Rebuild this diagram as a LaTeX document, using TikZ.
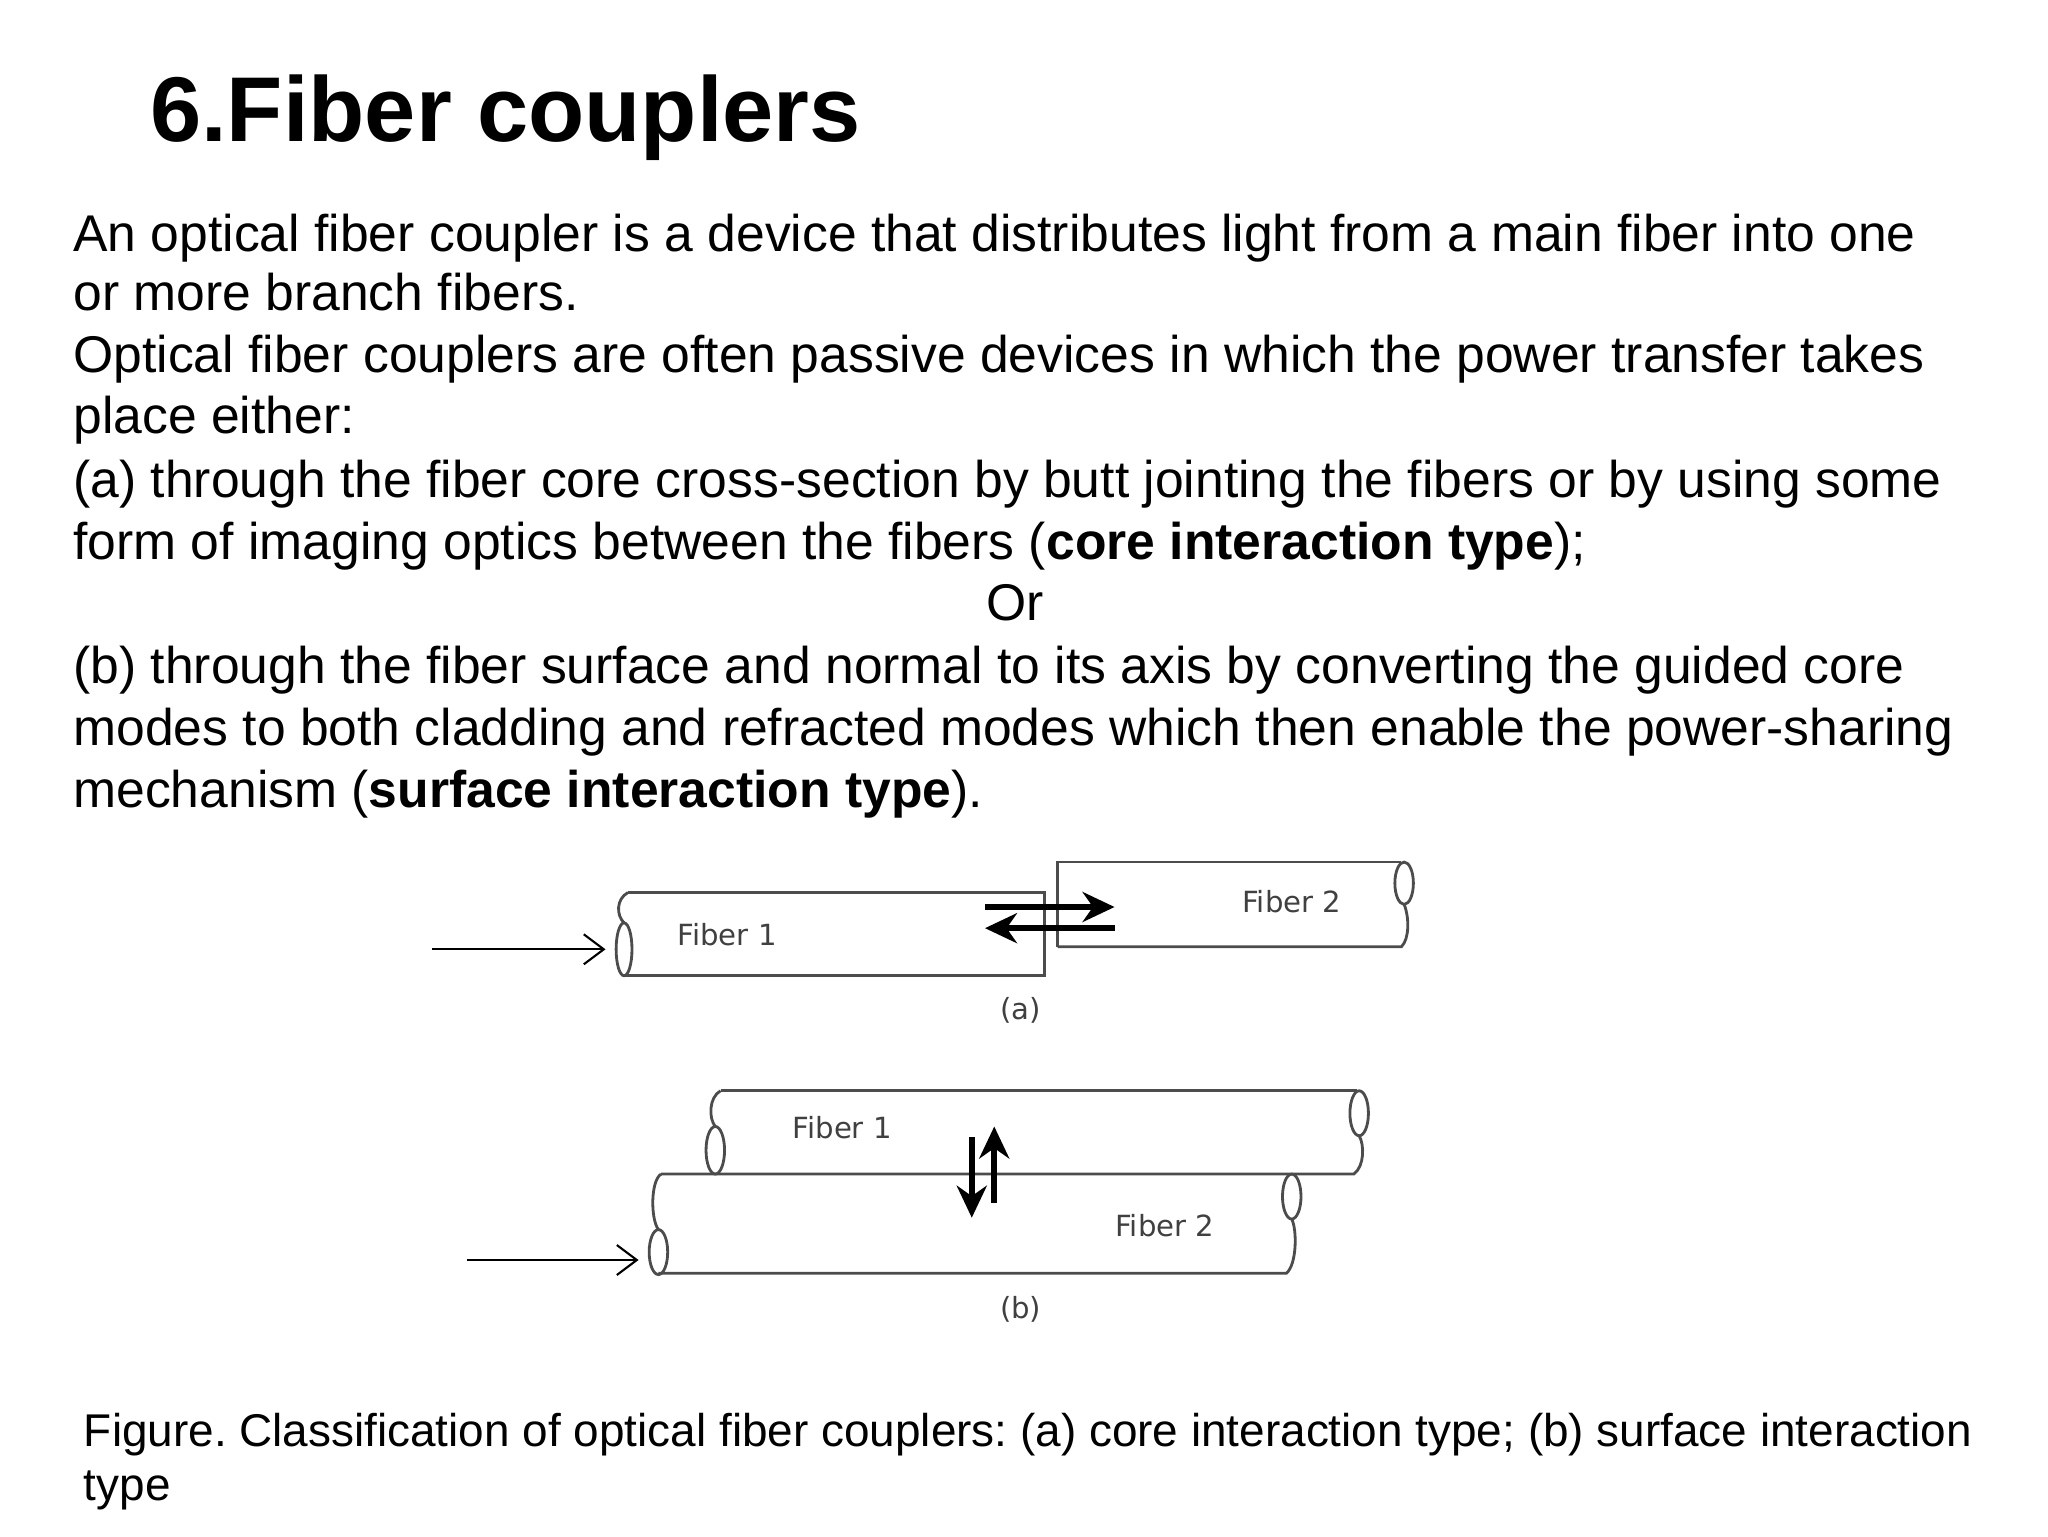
\documentclass[tikz,border=0pt]{standalone}
\usepackage{fontspec}
\setmainfont{Liberation Sans}
\newfontfamily\labelfont{DejaVu Sans}
\usetikzlibrary{arrows.meta}
\frenchspacing

\tikzset{
	body/.style = {anchor = base west, inner sep = 0pt, font = \fontsize{14.7}{17}\selectfont},
	note/.style = {anchor = base west, inner sep = 0pt, font = \fontsize{13.07}{16}\selectfont},
	flabel/.style = {inner sep = 0pt, text = black!75, font = \labelfont\fontsize{8.3}{9}\selectfont},
	fiber/.style = {draw = black!70, line width = 0.8pt},
	feed/.style = {-{Straight Barb[length=2mm, width=3mm]}, line width = 0.6pt},
	flow/.style = {-{Stealth[length=3.2mm, width=3mm]}, line width = 1.6pt}
}

\begin{document}
\begin{tikzpicture}[x = 0.013222cm, y = -0.013222cm]
		\useasboundingbox (0,0) rectangle (1549,1162);

		% title and text
		\begin{scope}
			\node [body, font = \bfseries\fontsize{26.2}{30}\selectfont] (title) at (113,107) {6.Fiber couplers};
			\node [body] (l1) at (55,190) {An optical fiber coupler is a device that distributes light from a main fiber into one};
			\node [body] (l2) at (55,235) {or more branch fibers.};
			\node [body] (l3) at (55,282) {Optical fiber couplers are often passive devices in which the power transfer takes};
			\node [body] (l4) at (55,328) {place either:};
			\node [body] (l5) at (55,376) {(a) through the fiber core cross-section by butt jointing the fibers or by using some};
			\node [body] (l6) at (55,423) {form of imaging optics between the fibers (\textbf{core interaction type});};
			\node [body, anchor = base] (or) at (768,469) {Or};
			\node [body] (l7) at (55,517) {(b) through the fiber surface and normal to its axis by converting the guided core};
			\node [body] (l8) at (55,564) {modes to both cladding and refracted modes which then enable the power-sharing};
			\node [body] (l9) at (55,611) {mechanism (\textbf{surface interaction type}).};
			\node [note] (c1) at (63,1094) {Figure. Classification of optical fiber couplers: (a) core interaction type; (b) surface interaction};
			\node [note] (c2) at (63,1135) {type};
		\end{scope}

		% (a) core interaction
		\begin{scope}
			\draw [fiber] (475,675) -- (790,675) -- (790,738) -- (472,738);
			\draw [fiber] (472,718) ellipse [x radius = 6, y radius = 20];
			\draw [fiber] (475,675) .. controls (466,680) and (466,692) .. (472,698);
			\draw [fiber] (800,716) -- (800,652) -- (1060,652);
			\draw [fiber] (1062,668) ellipse [x radius = 7, y radius = 16];
			\draw [fiber] (800,716) -- (1060,716) .. controls (1066,710) and (1066,694) .. (1062,684);
			\coordinate (ina) at (327,718);
			\coordinate (ina end) at (458,718);
			\draw [feed] (ina) -- (ina end);
			\coordinate (ra) at (745,686);
			\coordinate (rb) at (843,686);
			\coordinate (la) at (843,702);
			\coordinate (lb) at (745,702);
			\draw [flow] (ra) -- (rb);
			\draw [flow] (la) -- (lb);
			\node [flabel] (fa1) at (550,707) {Fiber 1};
			\node [flabel] (fa2) at (977,682) {Fiber 2};
			\node [flabel] (capa) at (772,764) {(a)};
		\end{scope}

		% (b) surface interaction
		\begin{scope}
			\draw [fiber] (545,825) -- (1026,825);
			\draw [fiber] (1028,842) ellipse [x radius = 7, y radius = 17];
			\draw [fiber] (1028,859) .. controls (1032,866) and (1032,882) .. (1024,888) -- (500,888);
			\draw [fiber] (541,870) ellipse [x radius = 7, y radius = 18];
			\draw [fiber] (545,825) .. controls (536,830) and (536,846) .. (541,852);
			\draw [fiber] (977,905) ellipse [x radius = 7, y radius = 17];
			\draw [fiber] (977,922) .. controls (981,930) and (981,956) .. (973,963) -- (498,963);
			\draw [fiber] (498,947) ellipse [x radius = 7, y radius = 17];
			\draw [fiber] (500,888) .. controls (492,893) and (492,922) .. (498,930);
			\coordinate (inb) at (353,953);
			\coordinate (inb end) at (483,953);
			\draw [feed] (inb) -- (inb end);
			\coordinate (da) at (735,860);
			\coordinate (db) at (735,921);
			\coordinate (ua) at (752,910);
			\coordinate (ub) at (752,852);
			\draw [flow] (da) -- (db);
			\draw [flow] (ua) -- (ub);
			\node [flabel] (fb1) at (637,853) {Fiber 1};
			\node [flabel] (fb2) at (881,927) {Fiber 2};
			\node [flabel] (capb) at (772,990) {(b)};
		\end{scope}
	\end{tikzpicture}
\end{document}
